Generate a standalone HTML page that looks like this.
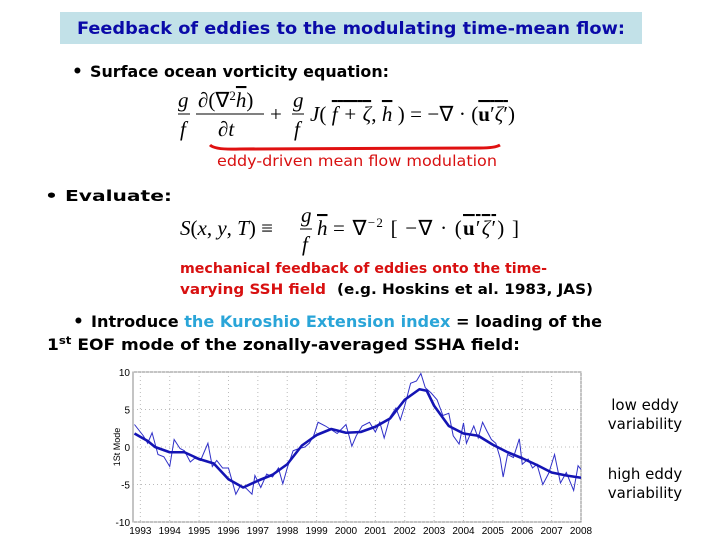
<!DOCTYPE html>
<html><head><meta charset="utf-8"><style>
html,body{margin:0;padding:0;background:#fff}
svg{display:block}
.b{font-family:"DejaVu Sans","Liberation Sans",sans-serif;font-weight:bold}
.n{font-family:"DejaVu Sans","Liberation Sans",sans-serif}
.m{font-family:"Liberation Serif",serif;font-size:21px}
.i{font-style:italic}
.o{text-decoration:overline}
</style></head><body>
<svg id="slide" width="720" height="540" viewBox="0 0 720 540" xmlns="http://www.w3.org/2000/svg">
<rect x="60" y="12" width="582" height="32" fill="#c2e1e8"/>
<text class="b" x="77" y="34" font-size="17" fill="#0a0aa8" textLength="548" lengthAdjust="spacingAndGlyphs">Feedback of eddies to the modulating time-mean flow:</text>
<text class="b" x="72" y="77" font-size="17">•</text>
<text class="b" x="90" y="77" font-size="16" textLength="299" lengthAdjust="spacingAndGlyphs">Surface ocean vorticity equation:</text>

<g class="m">
<text x="178" y="107" class="i">g</text><line x1="178" y1="114" x2="190" y2="114" stroke="#000"/><text x="180" y="136" class="i">f</text>
<text x="198" y="107">∂(∇<tspan font-size="13" dy="-7">2</tspan><tspan dy="7" class="i o">h</tspan>)</text>
<line x1="196" y1="114" x2="264" y2="114" stroke="#000"/>
<text x="218" y="136">∂<tspan class="i">t</tspan></text>
<text x="270" y="121">+</text>
<text x="293" y="107" class="i">g</text><line x1="292" y1="114" x2="304" y2="114" stroke="#000"/><text x="294" y="136" class="i">f</text>
<text x="310" y="121" textLength="205" lengthAdjust="spacing"><tspan class="i">J</tspan>( <tspan class="i o">f + ζ</tspan>, <tspan class="i o">h</tspan> ) = −∇ · (<tspan class="o"><tspan font-weight="bold">u</tspan>′<tspan class="i">ζ</tspan>′</tspan>)</text>
</g>
<path d="M210 145 Q215 150 240 149 L480 148 Q495 148 500 145" fill="none" stroke="#e01010" stroke-width="3"/>
<text class="n" x="217" y="166" font-size="15" fill="#d81010" textLength="280" lengthAdjust="spacingAndGlyphs">eddy-driven mean flow modulation</text>

<text class="b" x="45" y="201" font-size="15" textLength="127" lengthAdjust="spacingAndGlyphs">• Evaluate:</text>
<g class="m">
<text x="180" y="235"><tspan class="i">S</tspan>(<tspan class="i">x</tspan>, <tspan class="i">y</tspan>, <tspan class="i">T</tspan>) ≡</text>
<text x="301" y="222" class="i">g</text><line x1="300" y1="229" x2="312" y2="229" stroke="#000"/><text x="302" y="251" class="i">f</text>
<text x="317" y="235" class="i o">h</text>
<text x="333" y="235" textLength="186" lengthAdjust="spacing">= ∇<tspan font-size="13" dy="-8">−2</tspan><tspan dy="8"> [ −∇ · (</tspan><tspan class="o"><tspan font-weight="bold">u</tspan>′<tspan class="i">ζ</tspan>′</tspan>) ]</text>
</g>
<text class="b" x="180" y="273" font-size="14" fill="#d81010" textLength="367" lengthAdjust="spacingAndGlyphs">mechanical feedback of eddies onto the time-</text>
<text class="b" x="180" y="294" font-size="14" fill="#d81010" textLength="146" lengthAdjust="spacingAndGlyphs">varying SSH field</text>
<text class="b" x="337" y="294" font-size="14" fill="#000" textLength="256" lengthAdjust="spacingAndGlyphs">(e.g. Hoskins et al. 1983, JAS)</text>

<text class="b" x="73" y="327" font-size="17">•</text>
<text class="b" x="91" y="327" font-size="16" textLength="511" lengthAdjust="spacingAndGlyphs">Introduce <tspan fill="#2aa5d8">the Kuroshio Extension index</tspan> = loading of the</text>
<text class="b" x="47" y="350" font-size="16" textLength="473" lengthAdjust="spacingAndGlyphs">1<tspan font-size="11" dy="-6">st</tspan><tspan dy="6"> EOF mode of the zonally-averaged SSHA field:</tspan></text>

<text class="n" x="645" y="410" font-size="15" text-anchor="middle"><tspan x="645">low eddy</tspan><tspan x="645" dy="19">variability</tspan></text>
<text class="n" x="645" y="479" font-size="15" text-anchor="middle"><tspan x="645">high eddy</tspan><tspan x="645" dy="19">variability</tspan></text>

<g id="chart"></g>
</svg>
<script>
const yTicks = [10, 5, 0, -5, -10];
const yearTicks = [1993,1994,1995,1996,1997,1998,1999,2000,2001,2002,2003,2004,2005,2006,2007,2008];
const smoothT = [1992.8,1993.25,1993.5,1994,1994.5,1995,1995.5,1996,1996.5,1997,1997.5,1998,1998.5,1999,1999.5,2000,2000.5,2001,2001.5,2002,2002.5,2002.75,2003,2003.5,2004,2004.5,2005,2005.5,2006,2006.5,2007,2007.5,2008];
const smoothV = [1.8,0.8,0,-0.7,-0.7,-1.6,-2.2,-4.3,-5.4,-4.5,-3.7,-2.3,0.2,1.6,2.4,1.9,2.0,2.7,3.8,6.3,7.7,7.5,5.5,2.8,1.8,1.5,0.3,-0.7,-1.5,-2.4,-3.4,-3.8,-4.1];
const rawT = [1992.8,1993.1,1993.25,1993.4,1993.6,1993.8,1994,1994.15,1994.35,1994.5,1994.7,1994.85,1995.05,1995.3,1995.45,1995.6,1995.8,1996,1996.25,1996.4,1996.6,1996.8,1996.9,1997.1,1997.3,1997.5,1997.7,1997.85,1998,1998.2,1998.4,1998.6,1998.75,1998.9,1999.05,1999.3,1999.5,1999.7,2000,2000.2,2000.35,2000.55,2000.8,2001,2001.15,2001.3,2001.5,2001.7,2001.85,2002,2002.2,2002.4,2002.55,2002.7,2002.9,2003.1,2003.3,2003.5,2003.65,2003.85,2004,2004.1,2004.35,2004.5,2004.65,2004.8,2004.95,2005.1,2005.25,2005.35,2005.5,2005.7,2005.9,2006,2006.2,2006.35,2006.5,2006.7,2006.9,2007.1,2007.3,2007.5,2007.75,2007.9,2008];
const rawV = [3,1.5,0.5,1.9,-1,-1.3,-2.6,1,-0.2,-0.5,-2,-1.5,-1.8,0.5,-2.6,-1.8,-2.8,-2.8,-6.3,-5.2,-5.5,-6.3,-3.8,-5.4,-3.6,-4,-2.8,-4.9,-2.8,-0.5,-0.2,0,0.5,1.5,3.3,2.8,2.3,1.8,3,0.1,1.5,2.8,3.3,2.0,3.3,1.2,4.0,5.2,3.6,5.5,8.5,8.8,9.8,7.9,7.2,6.3,4.2,4.5,1.5,0.4,3.2,0.5,2.8,1.2,3.3,2.1,1.0,0.5,-1.5,-4.0,-1,-1.4,1.1,-2.3,-1.6,-2.8,-2.3,-5,-3.5,-1,-4.8,-3.4,-5.8,-2.5,-3.0];

const NS='http://www.w3.org/2000/svg';
const g=document.getElementById('chart');
const L=133,R=581,T=372,B=522,x0=1992.75,x1=2008,y0=-10,y1=10;
const sx=t=>L+(t-x0)/(x1-x0)*(R-L);
const sy=v=>B-(v-y0)/(y1-y0)*(B-T);
function mk(tag,attrs,parent){const e=document.createElementNS(NS,tag);for(const k in attrs)e.setAttribute(k,attrs[k]);(parent||g).appendChild(e);return e;}
mk('rect',{x:L,y:T,width:R-L,height:B-T,fill:'#fff',stroke:'#888','stroke-width':1});
yTicks.forEach(v=>{
  const ln=mk('line',{x1:L,x2:R,y1:sy(v),y2:sy(v),stroke:'#bbb','stroke-dasharray':'1,3'});
  
  
  const t=mk('text',{x:L-3,y:sy(v)+4,'font-size':10,'text-anchor':'end','font-family':'Liberation Sans, sans-serif'});
  t.textContent=v;
  
  
});
yearTicks.forEach(y=>{
  const ln=mk('line',{x1:sx(y),x2:sx(y),y1:T,y2:B,stroke:'#bbb','stroke-dasharray':'1,3'});
  
  
  const t=mk('text',{x:sx(y),y:B+12,'font-size':10,'text-anchor':'middle','font-family':'Liberation Sans, sans-serif'});
  t.textContent=y;
  
  
});
const yl=mk('text',{x:0,y:0,'font-size':9,'text-anchor':'middle','font-family':'Liberation Sans, sans-serif',transform:`translate(120,${(T+B)/2}) rotate(-90)`});
yl.textContent='1St Mode';


const raw=mk('polyline',{points:rawT.map((t,i)=>sx(t)+','+sy(rawV[i])).join(' '),fill:'none',stroke:'#3030c8','stroke-width':1});


const sm=mk('polyline',{points:smoothT.map((t,i)=>sx(t)+','+sy(smoothV[i])).join(' '),fill:'none',stroke:'#1414b4','stroke-width':2.6,'stroke-linejoin':'round'});


</script>
</body></html>
